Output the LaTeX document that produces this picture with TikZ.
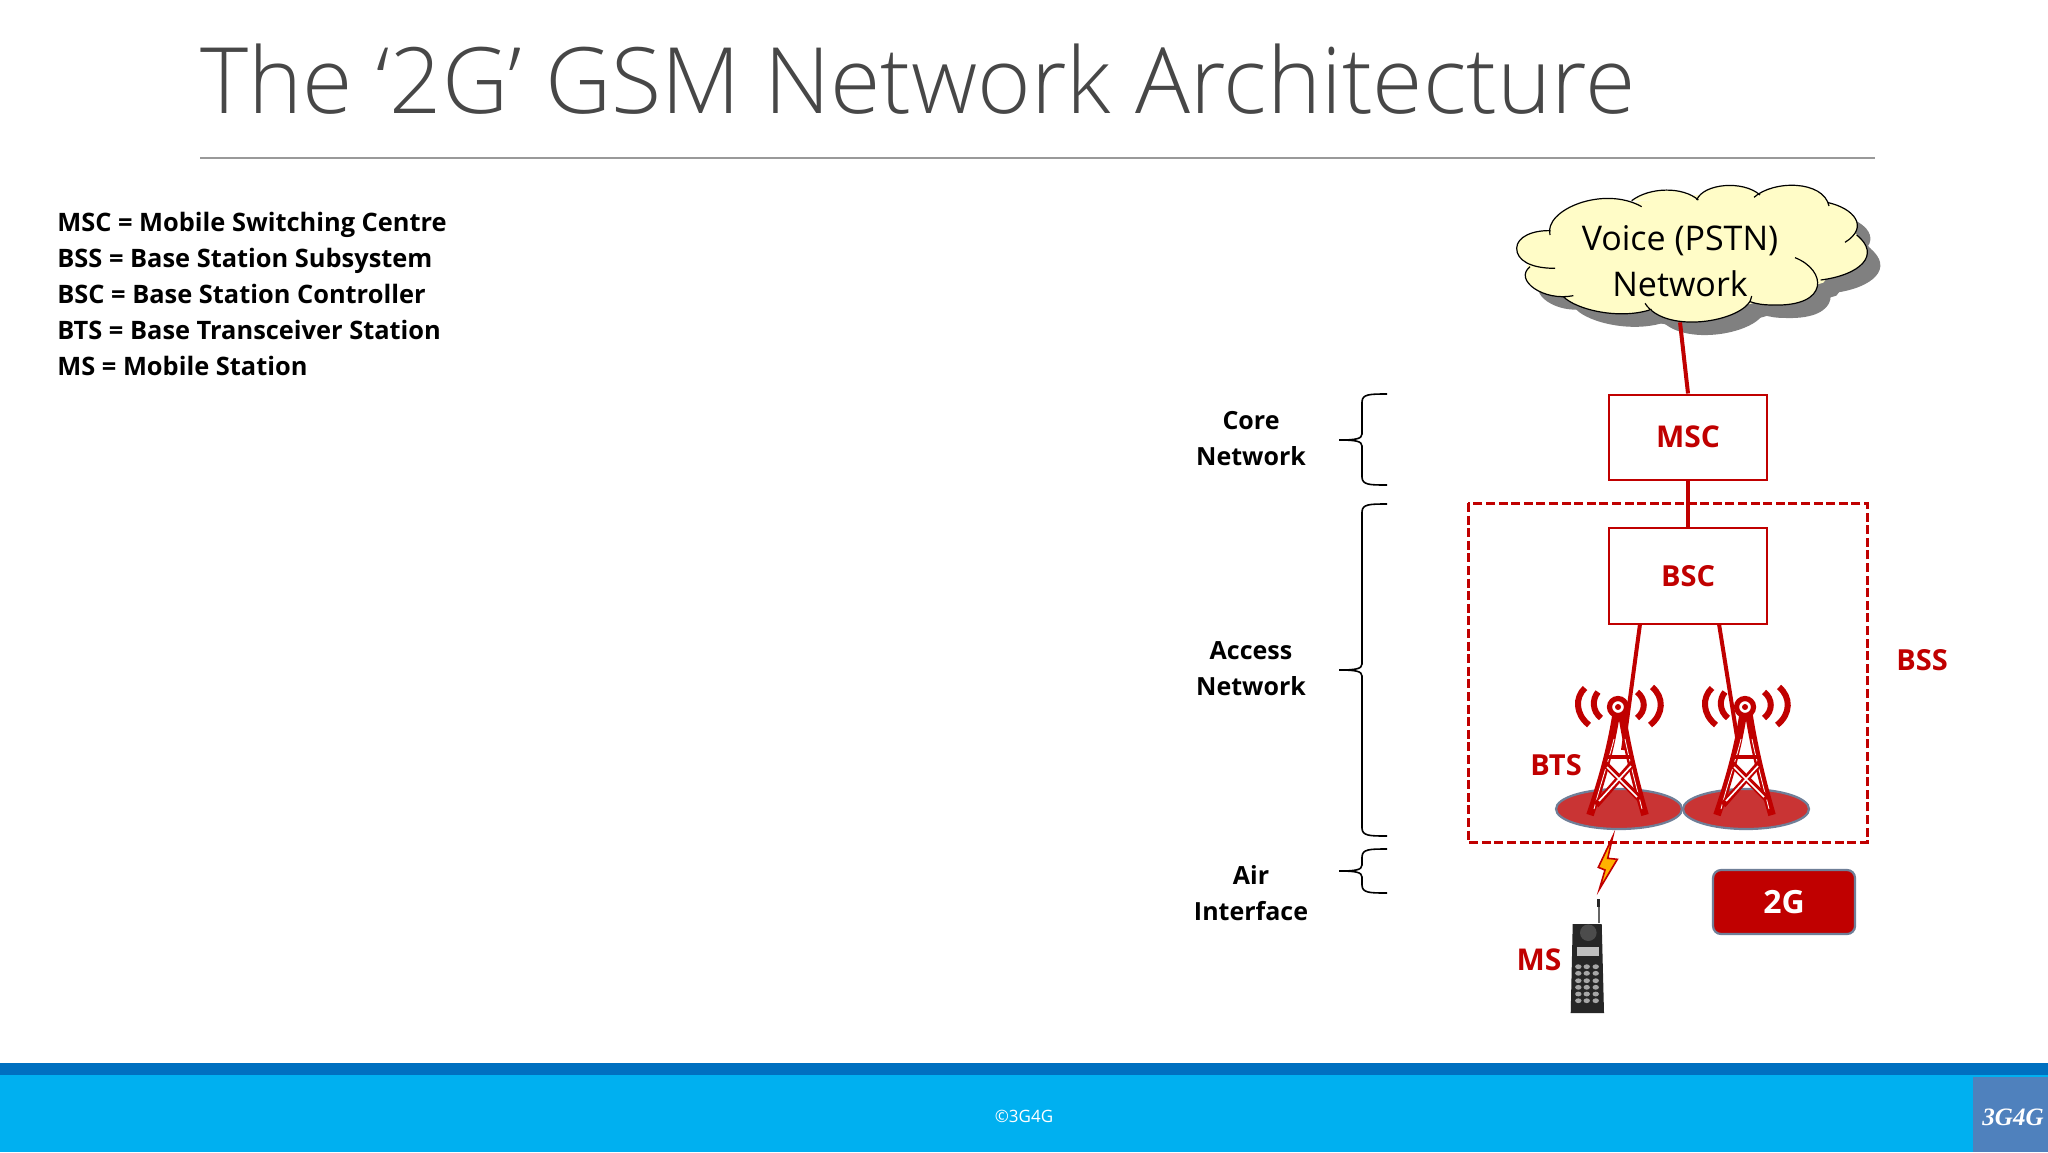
\documentclass[tikz,border=0pt]{standalone}
\usepackage{fontspec}
\setmainfont{Open Sans}
\newfontfamily\titlefont{Open Sans Light}
\newfontfamily\logofont{Liberation Serif}
\definecolor{gsmred}{HTML}{C00000}
\definecolor{cellred}{HTML}{C93434}
\definecolor{cellrim}{HTML}{6F7F98}
\definecolor{barblue}{HTML}{0070C0}
\definecolor{footblue}{HTML}{00B0F0}
\definecolor{logoblue}{HTML}{4F81BD}
\newcommand{\cloudcore}{(210,215)--(470,125)--(655,105)--(830,100)--(1045,125)--(1135,230)--(1030,368)--(810,432)--(640,475)--(495,450)--(270,420)--(140,320)--cycle}
\newcommand{\cloudarcs}{
(225,325) .. controls (150,325) and (110,300) .. (110,265) .. controls (110,230) and (160,210) .. (212,212)
(210,225) .. controls (190,150) and (370,75) .. (485,140)
(455,122) .. controls (510,80) and (610,80) .. (655,120)
(650,120) .. controls (670,70) and (790,60) .. (840,105)
(822,112) .. controls (880,60) and (1030,60) .. (1047,138)
(1045,128) .. controls (1120,145) and (1170,200) .. (1095,247)
(1130,225) .. controls (1205,285) and (1140,345) .. (1022,360)
(945,293) .. controls (1040,330) and (1050,440) .. (880,435) .. controls (850,435) and (830,432) .. (810,425)
(815,408) .. controls (810,480) and (560,530) .. (495,430)
(515,448) .. controls (420,480) and (290,450) .. (250,410)
(280,407) .. controls (190,425) and (100,360) .. (150,320)}
\newcommand{\curlybrace}[3]{\draw[bracket] (1387,#1) .. controls (1370,#1) and (1362,#1) .. (1362,#1+8) -- (1362,#2-6) .. controls (1362,#2-1) and (1355,#2) .. (1339,#2) .. controls (1355,#2) and (1362,#2+1) .. (1362,#2+6) -- (1362,#3-8) .. controls (1362,#3) and (1370,#3) .. (1387,#3);}
\tikzset{
	netbox/.style={draw=gsmred,line width=1pt,fill=white,text=gsmred,font=\bfseries\fontsize{15}{18}\selectfont,minimum width=79pt},
	redlabel/.style={text=gsmred,font=\bfseries\fontsize{14.5}{18}\selectfont},
	sidelabel/.style={align=center,font=\bfseries\fontsize{12.5}{18}\selectfont},
	bracket/.style={black,line width=0.8pt},
	link/.style={gsmred,line width=2pt},
	tower/.pic={
		\filldraw[fill=cellred,draw=cellrim,line width=1.1pt] (0,0) ellipse (63 and 20);
		\draw[gsmred,line width=3.8pt] (-3,-94) .. controls (-10,-50) and (-22,-15) .. (-29,6);
		\draw[gsmred,line width=3.8pt] (3,-94) .. controls (10,-50) and (20,-15) .. (26,6);
		\draw[white,line width=0.4pt] (-5,-70) .. controls (-10,-50) and (-20,-20) .. (-25,0);
		\draw[white,line width=0.4pt] (6,-70) .. controls (10,-50) and (18,-20) .. (23,0);
		\draw[gsmred,line width=2.4pt] (-11,-52) -- (11,-52);
		\draw[gsmred,line width=3.2pt] (-23,-4) -- (14,-46);
		\draw[gsmred,line width=3.2pt] (-15,-46) -- (21,-10);
		\draw[white,line width=0.8pt] (-20,-8) -- (12,-43);
		\draw[white,line width=0.8pt] (-12,-42) -- (18,-12);
		\filldraw[fill=white,draw=gsmred,line width=2.6pt] (-1,-102) circle (8.5);
		\fill[gsmred] (-1,-102) circle (3);
		\draw[gsmred,line width=3pt] (-34,-121) .. controls (-44,-112) and (-44,-95) .. (-30,-84);
		\draw[gsmred,line width=3pt] (-21,-117) .. controls (-27,-110) and (-27,-98) .. (-18,-91);
		\draw[gsmred,line width=3pt] (18,-117) .. controls (27,-110) and (27,-98) .. (18,-91);
		\draw[gsmred,line width=3pt] (33,-122) .. controls (45,-112) and (45,-95) .. (31,-84);
	}
}
\begin{document}
\begin{tikzpicture}[x=0.5pt,y=-0.5pt]
	\useasboundingbox (0,0) rectangle (2048,1152);
	\fill[white] (0,0) rectangle (2048,1152);
	\node[anchor=base west,inner sep=0pt,text=black!72,font=\titlefont\fontsize{45.8}{50}\selectfont] (title) at (200,113) {The ‘2G’ GSM Network Architecture};
	\draw[black!40,line width=0.6pt] (200,158) -- (1875,158);
	\node[anchor=north west,inner sep=0pt,align=left,font=\bfseries\fontsize{12.7}{18}\selectfont] (legend) at (57,212) {MSC = Mobile Switching Centre\\BSS = Base Station Subsystem\\BSC = Base Station Controller\\BTS = Base Transceiver Station\\MS = Mobile Station};

	\node[netbox,minimum height=42.5pt] (msc) at (1688,437) {MSC};
	\node[netbox,minimum height=48pt,font=\bfseries\fontsize{14.5}{18}\selectfont] (bsc) at (1688,576) {BSC};
	\draw[link] (msc) -- (bsc);

	% cloud
	\begin{scope}[shift={(1493,173)},scale=1/3]
		\fill[black!50] \cloudcore;
		\fill[black!50] \cloudarcs;
	\end{scope}
	\node[minimum height=61pt,minimum width=60pt,inner sep=0pt] (cloud) at (1680,261) {};
	\draw[link] (cloud.south) -- (msc.north);
	\begin{scope}[shift={(1480,160)},scale=1/3]
		\fill[yellow!22] \cloudcore;
		\fill[yellow!22] \cloudarcs;
		\draw[black,line width=0.6pt] \cloudarcs;
	\end{scope}
	\node[align=center,font=\fontsize{17}{23}\selectfont] (cloudtext) at (cloud.center) {Voice (PSTN)\\Network};

	\draw[gsmred,line width=1.5pt,dash pattern=on 4.5pt off 1.8pt] (1468,503) rectangle (1867,842);
	\coordinate (bsca) at (1640,624);
	\coordinate (bscb) at (1719,624);
	\coordinate (btsa) at (1623,750);
	\coordinate (btsb) at (1737,737);
	\draw[link] (bsca) -- (btsa);
	\draw[link] (bscb) -- (btsb);
	\pic at (1619,809) {tower};
	\pic at (1746,809) {tower};
	\node[redlabel] (btslabel) at (1556,765) {BTS};
	\node[redlabel] (bsslabel) at (1922,660) {BSS};
	\node[redlabel,font=\bfseries\fontsize{15}{18}\selectfont] (mslabel) at (1539,960) {MS};

	% braces
	\curlybrace{394}{440}{485}
	\curlybrace{504}{670}{836}
	\curlybrace{849}{871}{893}
	\node[sidelabel] (corelabel) at (1251,439) {Core\\Network};
	\node[sidelabel] (accesslabel) at (1251,669) {Access\\Network};
	\node[sidelabel] (airlabel) at (1251,893) {Air\\Interface};

	% lightning and phone
	\filldraw[fill=orange!60!yellow,draw=gsmred,line width=0.8pt] (1612.7,836.7) -- (1607.7,858.3) -- (1617.3,859.3) -- (1599.3,889.3) -- (1605,870) -- (1598.3,867.3) -- cycle;
	\draw[black!60,line width=0.8pt] (1598.7,923) -- (1598.7,900);
	\fill[black!85] (1596.7,899.3) rectangle (1600.3,907.3);
	\fill[black!85] (1572.7,924) -- (1601.7,924) -- (1604,1013) -- (1570.7,1013) -- cycle;
	\fill[black!70] (1588.3,932.7) circle (8.3);
	\fill[black!25] (1576.7,946.7) rectangle (1599,956);
	\foreach \ky in {966.7,973.3,980.7,987.3,994,1000.7}{
		\foreach \kx in {1578.3,1586.7,1595.7}{
			\fill[black!35] (\kx,\ky) ellipse (3.2 and 2.4);
		}
	}
	\node[draw=cellrim,line width=1.1pt,fill=gsmred,rounded corners=4pt,text=white,minimum width=71pt,minimum height=32pt,font=\bfseries\fontsize{16}{18}\selectfont] (gen) at (1784,902) {2G};

	% footer
	\fill[barblue] (0,1063) rectangle (2048,1075);
	\fill[footblue] (0,1075) rectangle (2048,1152);
	\fill[logoblue] (1973,1077) rectangle (2048,1152);
	\node[text=white,font=\fontsize{8.5}{10}\selectfont] (copyright) at (1024,1116) {©3G4G};
	\node[text=white,font=\logofont\bfseries\itshape\fontsize{12.5}{15}\selectfont,inner sep=0pt] (logo) at (2013,1117) {3G4G};
\end{tikzpicture}
\end{document}
